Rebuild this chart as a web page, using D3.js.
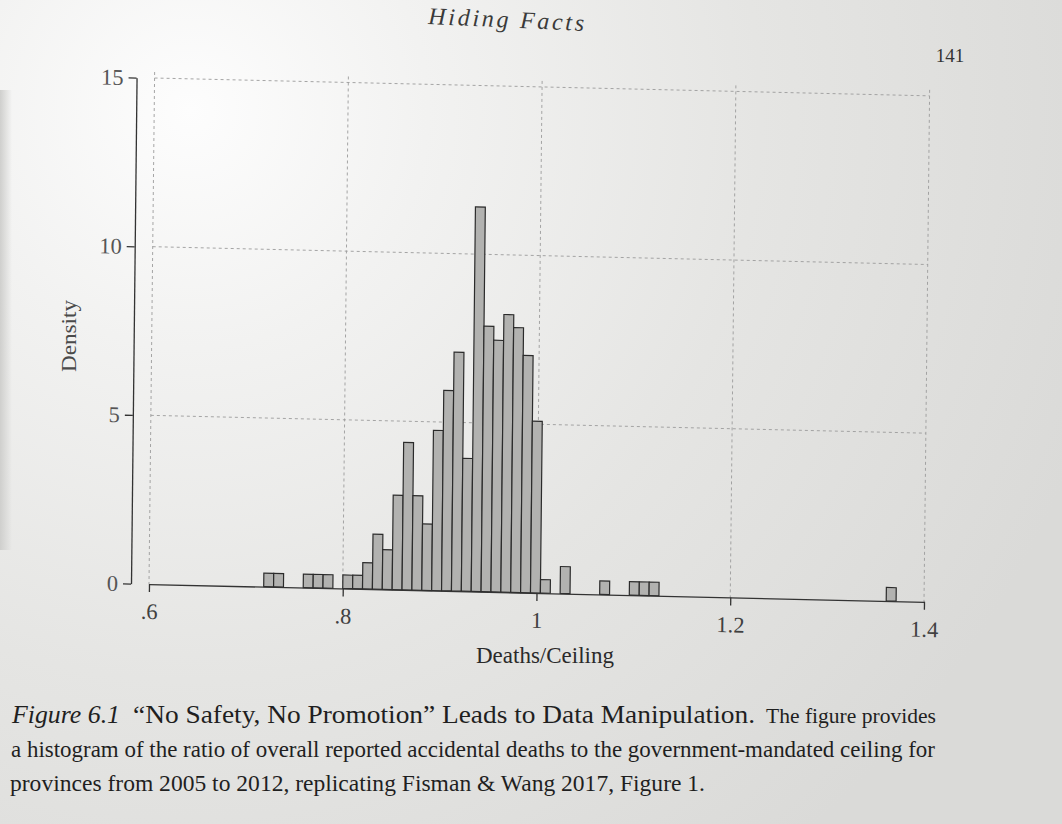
<!DOCTYPE html>
<html lang="en">
  <head>
    <meta charset="UTF-8" />
    <title>Figure 6.1</title>
    <style>
      html, body { margin: 0; padding: 0; background: #e6e6e4; }
      svg { display: block; }
    </style>
  </head>
  <body>
    <svg id="fig" width="1062" height="824" viewBox="0,0,1062,824"></svg>
    <script src="https://cdn.jsdelivr.net/npm/d3@7"></script>
    <script>
      var width = 1062;
      var height = 824;

      // histogram bins: first edge, width, density of each consecutive bin
      var binStart = 0.7184;
      var binWidth = 0.0102;
      var densities = [
        0.4, 0.4, 0, 0, 0.4, 0.4, 0.4, 0,
        0.4, 0.4, 0.78, 1.63, 1.18, 2.8, 4.37, 2.8, 1.97, 4.75,
        5.94, 7.08, 3.94, 11.4, 7.87, 7.46, 8.23, 7.85, 7.03, 5.09,
        0.4, 0, 0.8, 0, 0, 0, 0.4, 0, 0, 0.4, 0.4, 0.4,
        0, 0, 0, 0, 0, 0, 0, 0, 0, 0, 0, 0,
        0, 0, 0, 0, 0, 0, 0, 0, 0, 0, 0,
        0.4
      ];

      var xTicks = [0.6, 0.8, 1.0, 1.2, 1.4];
      var xTickLabels = ['.6', '.8', '1', '1.2', '1.4'];
      var yTicks = [0, 5, 10, 15];
      var yTickLabels = ['0', '5', '10', '15'];

      var serif = '"Liberation Serif", "DejaVu Serif", serif';

      var svg = d3.select('#fig');
      var defs = svg.append('defs');

      // paper
      var paper = defs.append('radialGradient')
        .attr('id', 'paper')
        .attr('gradientUnits', 'userSpaceOnUse')
        .attr('cx', 190).attr('cy', 110).attr('r', 950);
      paper.append('stop').attr('offset', 0).attr('stop-color', '#fdfdfd');
      paper.append('stop').attr('offset', 0.25).attr('stop-color', '#f2f2f1');
      paper.append('stop').attr('offset', 0.6).attr('stop-color', '#e5e5e3');
      paper.append('stop').attr('offset', 1).attr('stop-color', '#dadad8');

      var edge = defs.append('linearGradient').attr('id', 'edge');
      edge.append('stop').attr('offset', 0).attr('stop-color', '#cfcfcd');
      edge.append('stop').attr('offset', 1).attr('stop-color', '#cfcfcd').attr('stop-opacity', 0);

      svg.append('rect').attr('width', width).attr('height', height).attr('fill', 'url(#paper)');
      svg.append('rect').attr('x', 0).attr('y', 90).attr('width', 12).attr('height', 460)
        .attr('fill', 'url(#edge)');

      // running head
      svg.append('text')
        .attr('x', 428).attr('y', 24)
        .attr('transform', 'rotate(2.5, 428, 24)')
        .attr('textLength', 156)
        .style('font', 'italic 24px ' + serif)
        .attr('fill', '#3a3a3a')
        .text('Hiding Facts');

      svg.append('text')
        .attr('x', 950).attr('y', 62)
        .attr('text-anchor', 'middle')
        .style('font', '19px ' + serif)
        .attr('fill', '#333')
        .text('141');

      // plot, sheared a little like the photographed page
      var x = d3.scaleLinear().domain([0.6, 1.4]).range([149, 924]);
      var y = d3.scaleLinear().domain([0, 15]).range([584, 78]);

      var px = 148, py = 584, shearY = 0.023, shearX = 0.011;
      var plot = svg.append('g')
        .attr('transform', `matrix(1,${shearY},${-shearX},1,${shearX * py},${-shearY * px})`);

      var grid = plot.append('g')
        .attr('stroke', '#9c9c9c')
        .attr('stroke-width', 0.9)
        .attr('stroke-dasharray', '3,3');

      grid.selectAll('line.h')
        .data(yTicks.filter(d => d > 0))
        .join('line')
        .attr('class', 'h')
        .attr('x1', x(0.6)).attr('x2', x(1.4))
        .attr('y1', d => y(d)).attr('y2', d => y(d));

      grid.selectAll('line.v')
        .data(xTicks)
        .join('line')
        .attr('class', 'v')
        .attr('x1', d => x(d)).attr('x2', d => x(d))
        .attr('y1', y(15) - 6).attr('y2', y(0));

      var bins = densities
        .map((d, i) => ({ x0: binStart + i * binWidth, x1: binStart + (i + 1) * binWidth, density: d }))
        .filter(d => d.density > 0);

      plot.append('g')
        .attr('fill', '#b2b2b0')
        .attr('stroke', '#2b2b2b')
        .attr('stroke-width', 1.2)
        .selectAll('rect')
        .data(bins)
        .join('rect')
        .attr('x', d => x(d.x0))
        .attr('y', d => y(d.density))
        .attr('width', d => x(d.x1) - x(d.x0))
        .attr('height', d => y(0) - y(d.density));

      var xAxis = plot.append('g')
        .attr('transform', `translate(0,${y(0)})`)
        .call(d3.axisBottom(x)
          .tickValues(xTicks)
          .tickFormat((d, i) => xTickLabels[i])
          .tickSize(8)
          .tickSizeOuter(0)
          .tickPadding(11));

      var yAxis = plot.append('g')
        .attr('transform', `translate(${x(0.6) - 18},0)`)
        .call(d3.axisLeft(y)
          .tickValues(yTicks)
          .tickFormat((d, i) => yTickLabels[i])
          .tickSize(8)
          .tickSizeOuter(0)
          .tickPadding(5));

      [xAxis, yAxis].forEach(function (g) {
        g.selectAll('path, line').attr('stroke', '#333').attr('stroke-width', 1.3);
        g.selectAll('text').style('font', '22.5px ' + serif).attr('fill', '#404040');
      });
      yAxis.selectAll('text').attr('fill', '#555');

      // axis titles
      svg.append('text')
        .attr('x', 545).attr('y', 663)
        .attr('text-anchor', 'middle')
        .attr('textLength', 138)
        .attr('lengthAdjust', 'spacingAndGlyphs')
        .style('font', '23px ' + serif)
        .attr('fill', '#2a2a2a')
        .text('Deaths/Ceiling');

      svg.append('text')
        .attr('transform', 'translate(76,336) rotate(-90)')
        .attr('text-anchor', 'middle')
        .attr('textLength', 72)
        .attr('lengthAdjust', 'spacingAndGlyphs')
        .style('font', '21px ' + serif)
        .attr('fill', '#4a4a4a')
        .text('Density');

      // caption
      var caption = svg.append('g').attr('fill', '#1f1f1f');
      caption.append('text')
        .attr('x', 12).attr('y', 723)
        .attr('textLength', 108)
        .attr('lengthAdjust', 'spacingAndGlyphs')
        .style('font', 'italic 25px ' + serif)
        .text('Figure 6.1');
      caption.append('text')
        .attr('x', 133).attr('y', 723)
        .attr('textLength', 622)
        .attr('lengthAdjust', 'spacingAndGlyphs')
        .style('font', '25px ' + serif)
        .text('\u201cNo Safety, No Promotion\u201d Leads to Data Manipulation.');
      caption.append('text')
        .attr('x', 766).attr('y', 723)
        .attr('textLength', 170)
        .attr('lengthAdjust', 'spacingAndGlyphs')
        .style('font', '21px ' + serif)
        .text('The figure provides');
      caption.append('text')
        .attr('x', 11).attr('y', 757)
        .attr('textLength', 924)
        .attr('lengthAdjust', 'spacingAndGlyphs')
        .style('font', '23.5px ' + serif)
        .text('a histogram of the ratio of overall reported accidental deaths to the government-mandated ceiling for');
      caption.append('text')
        .attr('x', 10).attr('y', 791)
        .attr('textLength', 695)
        .attr('lengthAdjust', 'spacingAndGlyphs')
        .style('font', '23.5px ' + serif)
        .text('provinces from 2005 to 2012, replicating Fisman & Wang 2017, Figure 1.');
    </script>
  </body>
</html>
